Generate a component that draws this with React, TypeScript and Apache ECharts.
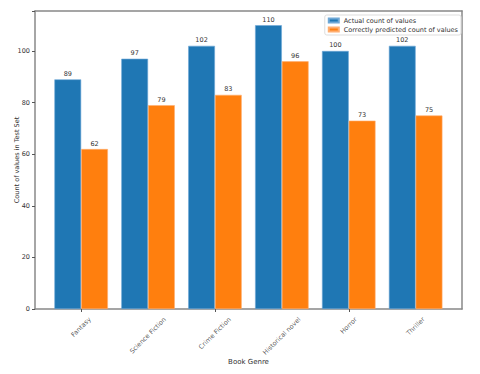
import React, { useEffect, useRef } from "react";
import * as echarts from "echarts";

const categories = ["Fantasy", "Science Fiction", "Crime Fiction", "Historical novel", "Horror", "Thriller"];
const actualCounts = [89, 97, 102, 110, 100, 102];
const predictedCounts = [62, 79, 83, 96, 73, 75];
const yTicks = [0, 20, 40, 60, 80, 100];

const FONT = "DejaVu Sans";
const TXT = "#333";
const SPINE = { show: true, onZero: false, lineStyle: { color: "#888", width: 1.5 } };
const hidden = { axisTick: { show: false }, axisLabel: { show: false }, splitLine: { show: false } };
const LABEL_SIZE = 6.5;

function measure(text: string): number {
  const ctx = document.createElement("canvas").getContext("2d");
  if (!ctx) return text.length * 3.7;
  ctx.font = `${LABEL_SIZE}px "${FONT}"`;
  return ctx.measureText(text).width;
}

export default function App() {
  const ref = useRef<HTMLDivElement>(null);
  useEffect(() => {
    if (!ref.current) return;
    const chart = echarts.init(ref.current, null, { renderer: "svg" });
    const yMax = 115.5;
    // tick labels rotated 45° and centred under their tick (matplotlib style)
    const tickLabelData = categories.map((c, i) => {
      const s = 7 + 0.354 * (measure(c) + LABEL_SIZE);
      const d = s / Math.SQRT2;
      return { value: [i, 0], name: c, label: { offset: [-d, d] } };
    });
    chart.setOption({
      animation: false,
      backgroundColor: "#fff",
      textStyle: { fontFamily: FONT },
      grid: [
        { left: 35, right: 18, top: 11, bottom: 65 },
        { left: 47.7, right: 30.9, top: 11, bottom: 65 },
      ],
      legend: {
        orient: "vertical",
        right: 19,
        top: 15,
        icon: "rect",
        itemWidth: 10,
        itemHeight: 4,
        itemGap: 2,
        padding: [2, 3, 2, 3],
        borderColor: "#ddd",
        borderWidth: 1,
        borderRadius: 2,
        backgroundColor: "#fff",
        textStyle: { fontFamily: FONT, fontSize: 6.5, color: TXT },
        data: ["Actual count of values", "Correctly predicted count of values"],
        z: 1,
      },
      xAxis: [
        {
          gridIndex: 0, type: "value", min: 0, max: 1, position: "bottom",
          axisLine: SPINE, ...hidden,
          name: "Book Genre", nameLocation: "middle", nameGap: 49, nameMoveOverlap: false,
          nameTextStyle: { fontFamily: FONT, fontSize: 7, color: TXT },
        },
        {
          gridIndex: 0, type: "value", min: 0, max: 1, position: "top",
          axisLine: SPINE, ...hidden,
        },
        {
          gridIndex: 1, type: "category", data: categories,
          axisLine: { show: false },
          axisTick: { show: true, alignWithLabel: true, length: 3, lineStyle: { color: "#555" } },
          axisLabel: { show: false },
          splitLine: { show: false },
        },
      ],
      yAxis: [
        {
          gridIndex: 0, type: "value", min: 0, max: yMax, interval: 20, position: "left",
          axisLine: SPINE,
          axisTick: { show: true, length: 3, lineStyle: { color: "#555" } },
          axisLabel: {
            fontFamily: FONT, fontSize: 6.5, color: TXT, margin: 5,
            formatter: (v: number) => (yTicks.includes(v) ? String(v) : ""),
          },
          splitLine: { show: false },
          name: "Count of values in Test Set", nameLocation: "middle", nameGap: 15, nameMoveOverlap: false,
          nameTextStyle: { fontFamily: FONT, fontSize: 6.5, color: TXT },
        },
        {
          gridIndex: 0, type: "value", min: 0, max: yMax, position: "right",
          axisLine: SPINE, ...hidden,
        },
        {
          gridIndex: 1, type: "value", min: 0, max: yMax,
          axisLine: { show: false }, ...hidden,
        },
      ],
      series: [
        {
          name: "Actual count of values", type: "bar", xAxisIndex: 2, yAxisIndex: 2,
          data: actualCounts, barWidth: "40%", barGap: "0%",
          itemStyle: { color: "#1f77b4", borderColor: "#6fa8d6", borderWidth: 0.6 },
          label: { show: true, position: "top", distance: 2, fontFamily: FONT, fontSize: 6.5, color: TXT },
        },
        {
          name: "Correctly predicted count of values", type: "bar", xAxisIndex: 2, yAxisIndex: 2,
          data: predictedCounts, barWidth: "40%", barGap: "0%",
          itemStyle: { color: "#ff7f0e", borderColor: "#ffae70", borderWidth: 0.6 },
          label: { show: true, position: "top", distance: 2, fontFamily: FONT, fontSize: 6.5, color: TXT },
        },
        {
          name: "tickLabels", type: "scatter", xAxisIndex: 2, yAxisIndex: 2,
          symbolSize: 0, silent: true, clip: false, z: 5,
          itemStyle: { color: TXT },
          data: tickLabelData,
          label: {
            show: true, position: "inside", rotate: 45, align: "center", verticalAlign: "middle",
            formatter: (p: any) => p.name,
            fontFamily: FONT, fontSize: LABEL_SIZE, color: TXT,
            textBorderWidth: 0, textBorderColor: "transparent",
          },
        },
      ],
    });
    return () => chart.dispose();
  }, []);
  return <div ref={ref} style={{ width: 480, height: 374, position: "absolute", left: 0, top: 0 }} />;
}
